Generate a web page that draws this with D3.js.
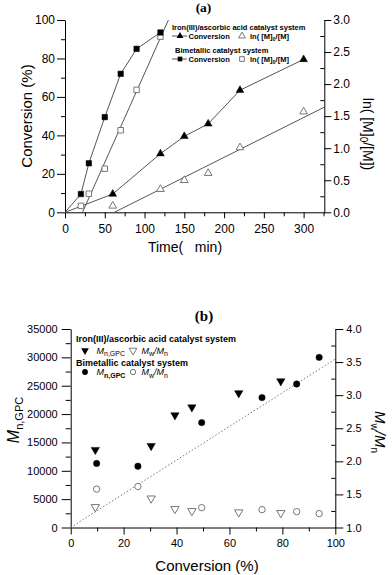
<!DOCTYPE html>
<html><head><meta charset="utf-8">
<script src="https://cdn.jsdelivr.net/npm/d3@7"></script>
<style>body{margin:0;background:#fff} svg text{font-family:"Liberation Sans",Arial,sans-serif}</style>
</head><body><script>
// ---------- Panel (a) data ----------
const timeBimetallic = [20, 30, 50, 70, 90, 120];
const convBimetallic = [9.5, 25.5, 49.5, 72, 85, 93.5];
const lnBimetallic = [0.10, 0.29, 0.68, 1.28, 1.91, 2.74];
const timeIron = [60, 120, 150, 180, 220, 300];
const convIron = [9.5, 30.5, 39.5, 46, 63.5, 79.5];
const lnIron = [0.10, 0.36, 0.50, 0.61, 1.01, 1.57];
const fitBimetallicTime = [22, 130];
const fitBimetallicLn = [0, 3.0];
const fitIronTime = [62, 326];
const fitIronLn = [0, 1.64];
const origin = [0, 0];
const timeTicks = [0, 50, 100, 150, 200, 250, 300];
const convTicks = [0, 20, 40, 60, 80, 100];
const lnTicks = [0, 0.5, 1.0, 1.5, 2.0, 2.5, 3.0];

// ---------- Panel (b) data ----------
const convIronB = [9.3, 30.4, 39.4, 45.8, 63.5, 79.4];
const mnIron = [13700, 14400, 19800, 21200, 23700, 25800];
const pdiIron = [1.31, 1.44, 1.28, 1.25, 1.23, 1.22];
const convBimetallicB = [9.8, 25.4, 49.5, 72.3, 85.4, 93.9];
const mnBimetallic = [11300, 10800, 18500, 22900, 25300, 30000];
const pdiBimetallic = [1.58, 1.62, 1.30, 1.27, 1.24, 1.21];
const theoConv = [0, 100];
const theoMn = [0, 29700];
const convTicksB = [0, 20, 40, 60, 80, 100];
const mnTicks = [0, 5000, 10000, 15000, 20000, 25000, 30000, 35000];
const pdiTicks = [1.0, 1.5, 2.0, 2.5, 3.0, 3.5, 4.0];

const mids = t => t.slice(0, -1).map((v, i) => (v + t[i + 1]) / 2);

const svg = d3.select("body").append("svg").attr("width", 392).attr("height", 575)
  .style("background", "#fff");

function styleAxis(g, fs) {
  g.attr("font-family", null).attr("font-size", null);
  g.selectAll("text").attr("font-size", fs).attr("fill", "#000");
  g.selectAll("line").attr("stroke", "#000");
  g.select(".domain").attr("stroke", "#000");
  return g;
}
function minor(g) { g.select(".domain").remove(); g.selectAll("text").remove(); return g; }

const lineCol = "#555", openCol = "#777";
const sym = (type, size) => d3.symbol().type(type).size(size)();

// ================= Panel (a) =================
const ax = d3.scaleLinear().domain([0, 326]).range([65, 324.3]);
const ayL = d3.scaleLinear().domain([0, 100]).range([212.3, 20]);
const ayR = d3.scaleLinear().domain([0, 3]).range([212.3, 20]);

const A = svg.append("g");
styleAxis(A.append("g").attr("transform", "translate(0,212.3)")
  .call(d3.axisBottom(ax).tickValues(timeTicks).tickSize(6).tickPadding(6).tickSizeOuter(0)), 12);
minor(styleAxis(A.append("g").attr("transform", "translate(0,212.3)")
  .call(d3.axisBottom(ax).tickValues(mids(timeTicks).concat([325])).tickSize(4)), 12));
styleAxis(A.append("g").attr("transform", "translate(65,0)")
  .call(d3.axisLeft(ayL).tickValues(convTicks).tickSize(8).tickPadding(2).tickSizeOuter(0)), 12);
minor(styleAxis(A.append("g").attr("transform", "translate(65,0)")
  .call(d3.axisLeft(ayL).tickValues(mids(convTicks)).tickSize(4)), 12));
styleAxis(A.append("g").attr("transform", "translate(324.3,0)")
  .call(d3.axisRight(ayR).tickValues(lnTicks).tickSize(7).tickPadding(2).tickSizeOuter(0).tickFormat(d3.format(".1f"))), 12);
minor(styleAxis(A.append("g").attr("transform", "translate(324.3,0)")
  .call(d3.axisLeft(ayR).tickValues(mids(lnTicks)).tickSize(4)), 12));

const lineA = d3.line().x(d => ax(d[0])).y(d => d[1]);
const pts = (xs, ys, sc) => xs.map((x, i) => [x, sc(ys[i])]);
A.append("path").attr("d", lineA([[origin[0], ayL(origin[1])]].concat(pts(timeBimetallic, convBimetallic, ayL))))
  .attr("fill", "none").attr("stroke", lineCol).attr("stroke-width", 1);
A.append("path").attr("d", lineA([[origin[0], ayL(origin[1])]].concat(pts(timeIron, convIron, ayL))))
  .attr("fill", "none").attr("stroke", lineCol).attr("stroke-width", 1);
A.append("path").attr("d", lineA(pts(fitBimetallicTime, fitBimetallicLn, ayR)))
  .attr("fill", "none").attr("stroke", lineCol).attr("stroke-width", 1);
A.append("path").attr("d", lineA(pts(fitIronTime, fitIronLn, ayR)))
  .attr("fill", "none").attr("stroke", lineCol).attr("stroke-width", 1);

function markers(g, xs, ys, xsc, ysc, path, filled, rot) {
  g.selectAll(null).data(xs).enter().append("path")
    .attr("d", path)
    .attr("transform", (d, i) => `translate(${xsc(d)},${ysc(ys[i])})` + (rot ? " rotate(180)" : ""))
    .attr("fill", filled ? "#000" : "#fff")
    .attr("stroke", filled ? "#000" : openCol).attr("stroke-width", filled ? 0.5 : 1);
}
const sqA = sym(d3.symbolSquare, 30), triA = sym(d3.symbolTriangle, 26);
markers(A, timeBimetallic, lnBimetallic, ax, ayR, sqA, false);
markers(A, timeIron, lnIron, ax, ayR, triA, false);
markers(A, timeBimetallic, convBimetallic, ax, ayL, sqA, true);
markers(A, timeIron, convIron, ax, ayL, triA, true);

// titles/labels (a)
A.append("text").attr("x", 203.5).attr("y", 12).attr("text-anchor", "middle")
  .style("font-family", "'Liberation Serif','Times New Roman',serif").attr("font-weight", "bold").attr("font-size", 13.5).text("(a)");
A.append("text").attr("transform", "translate(32,116) rotate(-90)").attr("text-anchor", "middle")
  .attr("font-size", 15).text("Conversion (%)");
A.append("text").attr("x", 185).attr("y", 252).attr("text-anchor", "middle").style("white-space", "pre")
  .attr("font-size", 14).text("Time(   min)");
{
  const t = A.append("text").attr("transform", "translate(363,134) rotate(90)").attr("text-anchor", "middle")
    .attr("font-size", 14).style("white-space", "pre");
  t.append("tspan").text("ln( [M]");
  t.append("tspan").attr("dy", 3).attr("font-size", 10).text("0");
  t.append("tspan").attr("dy", -3).text("/[M])");
}
// legend (a)
{
  const fs = 7.5;
  const L = A.append("g").attr("font-weight", "bold").attr("font-size", fs).style("white-space", "pre");
  L.append("text").attr("x", 172).attr("y", 29.5).text("Iron(III)/ascorbic acid catalyst system");
  L.append("text").attr("x", 175).attr("y", 52.5).text("Bimetallic catalyst system");
  const row = (y, filledPath, openPath) => {
    L.append("line").attr("x1", 172).attr("x2", 187).attr("y1", y - 2.5).attr("y2", y - 2.5).attr("stroke", lineCol);
    L.append("path").attr("d", filledPath).attr("transform", `translate(180,${y - 2.5})`).attr("fill", "#000");
    L.append("text").attr("x", 188.5).attr("y", y).text("Conversion");
    L.append("path").attr("d", openPath).attr("transform", `translate(242,${y - 2.5})`).attr("fill", "#fff").attr("stroke", openCol);
    const t = L.append("text").attr("x", 250).attr("y", y);
    t.append("tspan").text("ln(  [M]");
    t.append("tspan").attr("dy", 2).attr("font-size", 5.5).text("0");
    t.append("tspan").attr("dy", -2).text("/[M]");
  };
  row(38.5, sym(d3.symbolTriangle, 20), sym(d3.symbolTriangle, 20));
  row(61.5, sym(d3.symbolSquare, 22), sym(d3.symbolSquare, 22));
}

// ================= Panel (b) =================
const bx = d3.scaleLinear().domain([0, 100]).range([70.7, 335.3]);
const byL = d3.scaleLinear().domain([0, 35000]).range([527.5, 329]);
const byR = d3.scaleLinear().domain([1, 4]).range([527.5, 329]);
const B = svg.append("g");
styleAxis(B.append("g").attr("transform", "translate(0,527.5)")
  .call(d3.axisBottom(bx).tickValues(convTicksB).tickSize(7).tickPadding(5).tickSizeOuter(0)), 11);
minor(styleAxis(B.append("g").attr("transform", "translate(0,527.5)")
  .call(d3.axisBottom(bx).tickValues(mids(convTicksB)).tickSize(4)), 11));
styleAxis(B.append("g").attr("transform", "translate(70.7,0)")
  .call(d3.axisLeft(byL).tickValues(mnTicks).tickSize(9).tickPadding(4).tickSizeOuter(0).tickFormat(d3.format("d"))), 11);
minor(styleAxis(B.append("g").attr("transform", "translate(70.7,0)")
  .call(d3.axisLeft(byL).tickValues(mids(mnTicks)).tickSize(5)), 11));
styleAxis(B.append("g").attr("transform", "translate(335.3,0)")
  .call(d3.axisRight(byR).tickValues(pdiTicks).tickSize(8).tickPadding(3).tickSizeOuter(0).tickFormat(d3.format(".1f"))), 11);
minor(styleAxis(B.append("g").attr("transform", "translate(335.3,0)")
  .call(d3.axisLeft(byR).tickValues(mids(pdiTicks)).tickSize(4)), 11));

B.append("path").attr("d", d3.line().x(d => bx(d[0])).y(d => byL(d[1]))(theoConv.map((c, i) => [c, theoMn[i]])))
  .attr("fill", "none").attr("stroke", "#777").attr("stroke-width", 1).attr("stroke-dasharray", "1.5,2");

const triB = sym(d3.symbolTriangle, 30), circB = sym(d3.symbolCircle, 32);
markers(B, convIronB, pdiIron, bx, byR, triB, false, true);
markers(B, convBimetallicB, pdiBimetallic, bx, byR, circB, false);
markers(B, convIronB, mnIron, bx, byL, triB, true, true);
markers(B, convBimetallicB, mnBimetallic, bx, byL, circB, true);

B.append("text").attr("x", 204).attr("y", 321).attr("text-anchor", "middle")
  .style("font-family", "'Liberation Serif','Times New Roman',serif").attr("font-weight", "bold").attr("font-size", 15).text("(b)");
B.append("text").attr("x", 207).attr("y", 571).attr("text-anchor", "middle").attr("font-size", 15).text("Conversion (%)");
{
  const t = B.append("text").attr("transform", "translate(18.5,420) rotate(-90)").attr("text-anchor", "middle").attr("font-size", 16);
  t.append("tspan").attr("font-style", "italic").text("M");
  t.append("tspan").attr("dy", 4).attr("font-size", 11).text("n,GPC");
}
{
  const t = B.append("text").attr("transform", "translate(375,432) rotate(90)").attr("text-anchor", "middle").attr("font-size", 15)
    .attr("font-style", "italic");
  t.append("tspan").text("M");
  t.append("tspan").attr("dy", 4).attr("font-size", 10).attr("font-style", "normal").text("w");
  t.append("tspan").attr("dy", -4).text("/M");
  t.append("tspan").attr("dy", 4).attr("font-size", 10).attr("font-style", "normal").text("n");
}
// legend (b)
{
  const L = B.append("g").attr("font-size", 9);
  L.append("text").attr("x", 76).attr("y", 342).attr("font-weight", "bold").text("Iron(III)/ascorbic acid catalyst system");
  L.append("text").attr("x", 76).attr("y", 366).attr("font-weight", "bold").text("Bimetallic catalyst system");
  const mn = (y, bold) => {
    const t = L.append("text").attr("x", 96.5).attr("y", y);
    t.append("tspan").attr("font-style", "italic").text("M");
    t.append("tspan").attr("dy", 2.5).attr("font-size", 7).attr("font-weight", bold ? "bold" : null).text("n,GPC");
  };
  const pd = y => {
    const t = L.append("text").attr("x", 141.5).attr("y", y).attr("font-style", "italic");
    t.append("tspan").text("M");
    t.append("tspan").attr("dy", 2.5).attr("font-size", 7).attr("font-style", "normal").text("w");
    t.append("tspan").attr("dy", -2.5).text("/M");
    t.append("tspan").attr("dy", 2.5).attr("font-size", 7).attr("font-style", "normal").text("n");
  };
  L.append("path").attr("d", sym(d3.symbolTriangle, 26)).attr("transform", "translate(85,350.5) rotate(180)").attr("fill", "#000");
  mn(353.5, false);
  L.append("path").attr("d", sym(d3.symbolTriangle, 26)).attr("transform", "translate(133,350.5) rotate(180)").attr("fill", "#fff").attr("stroke", openCol);
  pd(353.5);
  L.append("path").attr("d", sym(d3.symbolCircle, 26)).attr("transform", "translate(85,372)").attr("fill", "#000");
  mn(375, true);
  L.append("path").attr("d", sym(d3.symbolCircle, 22)).attr("transform", "translate(133,372)").attr("fill", "#fff").attr("stroke", openCol);
  pd(375);
}
</script></body></html>
